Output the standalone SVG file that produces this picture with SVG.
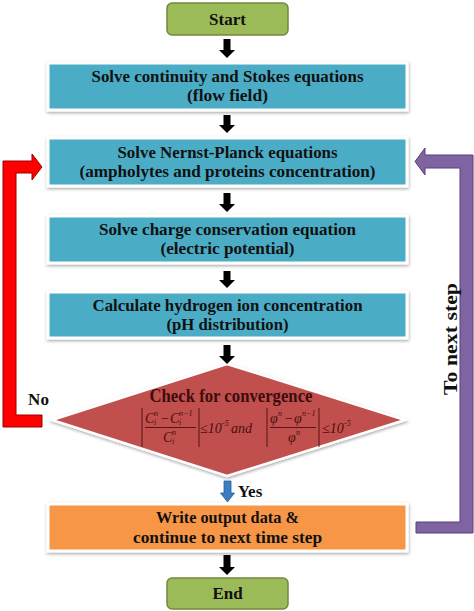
<svg xmlns="http://www.w3.org/2000/svg" width="474" height="611" viewBox="0 0 474 611">
<defs>
<filter id="sh" x="-10%" y="-20%" width="120%" height="150%">
<feDropShadow dx="0.5" dy="1.5" stdDeviation="1.5" flood-color="#000" flood-opacity="0.35"/>
</filter>
</defs>
<style>
.t{font-family:"Liberation Serif","DejaVu Serif",serif;font-weight:bold;font-size:16.5px;fill:#111;text-anchor:middle}
.term{fill:#9bbb59;stroke:#71893f;stroke-width:1.5}
.proc{fill:#4bacc6;stroke:#fff;stroke-width:3;filter:url(#sh)}
.out{fill:#f79646;stroke:#fff;stroke-width:3;filter:url(#sh)}
.dec{fill:#c0504d;stroke:#fff;stroke-width:2.5;filter:url(#sh)}
.arr{fill:#000}
.eq{font-family:"Liberation Serif","DejaVu Serif",serif;font-style:italic;fill:#4a1010;font-size:14px}
.eqs{font-family:"Liberation Serif","DejaVu Serif",serif;font-style:italic;fill:#4a1010;font-size:8px}
.bar{stroke:#4a1010;stroke-width:0.9;fill:none}
</style>
<rect width="474" height="611" fill="#fff"/>

<g id="start">
<rect class="term" x="167" y="3" width="121" height="32" rx="5"/>
<text class="t" x="227.5" y="25" style="font-size:17px">Start</text>
</g>

<g id="solve-flow">
<rect class="proc" x="48" y="63" width="359" height="47"/>
<text class="t" x="227.5" y="82" textLength="272" lengthAdjust="spacingAndGlyphs">Solve continuity and Stokes equations</text>
<text class="t" x="227.5" y="101" textLength="81" lengthAdjust="spacingAndGlyphs">(flow field)</text>
</g>

<g id="solve-np">
<rect class="proc" x="48" y="138" width="359" height="48"/>
<text class="t" x="227.5" y="158" textLength="220" lengthAdjust="spacingAndGlyphs">Solve Nernst-Planck equations</text>
<text class="t" x="227.5" y="177" textLength="296" lengthAdjust="spacingAndGlyphs">(ampholytes and proteins concentration)</text>
</g>

<g id="solve-charge">
<rect class="proc" x="48" y="216" width="359" height="47"/>
<text class="t" x="227.5" y="235" textLength="257" lengthAdjust="spacingAndGlyphs">Solve charge conservation equation</text>
<text class="t" x="227.5" y="254" textLength="134" lengthAdjust="spacingAndGlyphs">(electric potential)</text>
</g>

<g id="calc-ph">
<rect class="proc" x="48" y="292" width="359" height="46"/>
<text class="t" x="227.5" y="311" textLength="270" lengthAdjust="spacingAndGlyphs">Calculate hydrogen ion concentration</text>
<text class="t" x="227.5" y="330" textLength="122" lengthAdjust="spacingAndGlyphs">(pH distribution)</text>
</g>

<g id="check">
<polygon class="dec" points="227,364 405,420 227,476 52,420"/>
<text class="t" x="231" y="402" style="font-size:18px;fill:#3d0c0c" textLength="163" lengthAdjust="spacingAndGlyphs">Check for convergence</text>
<path class="bar" d="M142,408V447M199,408V447M145,427.5H196M267,408V447M319,408V447M270,427.5H316"/>
<text class="eq" x="145" y="423">C</text>
<text class="eqs" x="154" y="416">n</text>
<text class="eqs" x="154" y="425">i</text>
<text class="eq" x="160" y="423">−</text>
<text class="eq" x="170" y="423">C</text>
<text class="eqs" x="179" y="416">n−1</text>
<text class="eqs" x="179" y="425">i</text>
<text class="eq" x="163" y="442">C</text>
<text class="eqs" x="172" y="435">n</text>
<text class="eqs" x="172" y="444">i</text>
<text class="eq" x="200" y="433">≤10</text>
<text class="eqs" x="222" y="426">-5</text>
<text class="eq" x="231" y="433">and</text>
<text class="eq" x="270" y="423">φ</text>
<text class="eqs" x="278" y="416">n</text>
<text class="eq" x="284" y="423">−</text>
<text class="eq" x="294" y="423">φ</text>
<text class="eqs" x="302" y="416">n−1</text>
<text class="eq" x="288" y="442">φ</text>
<text class="eqs" x="296" y="435">n</text>
<text class="eq" x="322" y="433">≤10</text>
<text class="eqs" x="344" y="426">-5</text>
</g>

<g id="write-output">
<rect class="out" x="48" y="504" width="359" height="47"/>
<text class="t" x="227.5" y="523" textLength="143" lengthAdjust="spacingAndGlyphs">Write output data &amp;</text>
<text class="t" x="227.5" y="543" textLength="189" lengthAdjust="spacingAndGlyphs">continue to next time step</text>
</g>

<g id="end">
<rect class="term" x="167" y="578" width="121" height="31" rx="5"/>
<text class="t" x="227.5" y="599" style="font-size:17px">End</text>
</g>

<g id="connectors">
<polygon class="arr" points="223.5,39 230.5,39 230.5,50 235,50 227,58 219,50 223.5,50"/>
<polygon class="arr" points="223.5,115 230.5,115 230.5,125 235,125 227,133 219,125 223.5,125"/>
<polygon class="arr" points="223.5,193 230.5,193 230.5,204 235,204 227,212 219,204 223.5,204"/>
<polygon class="arr" points="223.5,271 230.5,271 230.5,280 235,280 227,288 219,280 223.5,280"/>
<polygon class="arr" points="223.5,345 230.5,345 230.5,356 235,356 227,364 219,356 223.5,356"/>
<polygon points="224,481 231,481 231,493 234.5,493 227.5,502 220.5,493 224,493" fill="#3a7dc0" stroke="#2a5f96" stroke-width="0.8"/>
<text class="t" x="250" y="497" style="font-size:17px">Yes</text>
<polygon class="arr" points="223.5,555 230.5,555 230.5,567 235,567 227,575 219,567 223.5,567"/>
<polygon points="3,161 32,161 32,154 42,167 32,180 32,173 16,173 16,415 42,415 42,427 3,427" fill="#ff0000" stroke="#9a0000" stroke-width="1"/>
<text class="t" x="38.5" y="405" style="font-size:17px">No</text>
<polygon points="473,155 473,533 416,533 416,522 460,522 460,168 425,168 425,175 415,161.5 425,148 425,155" fill="#8064a2" stroke="#55407a" stroke-width="1"/>
<text class="t" transform="translate(457,339) rotate(-90)" style="font-size:19px" textLength="112" lengthAdjust="spacingAndGlyphs">To next step</text>
</g>
</svg>
